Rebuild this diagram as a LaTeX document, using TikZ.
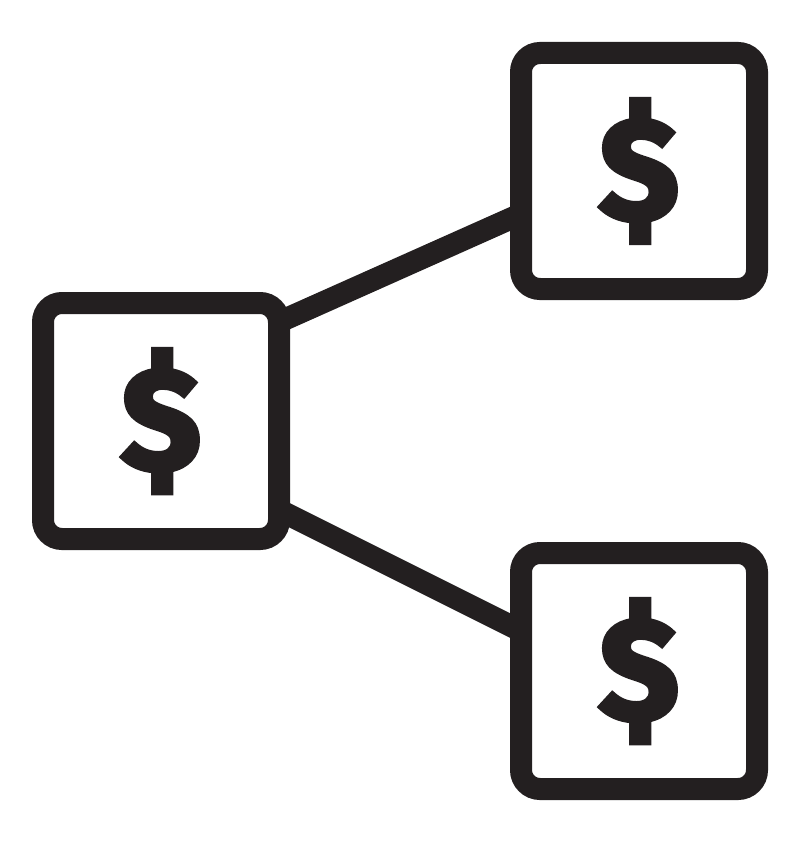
\documentclass[tikz,border=0pt]{standalone}
\usepackage{fontspec}
\newfontfamily\dollarfont{Fira Sans}[UprightFont={* Bold}, FakeBold=4]
\definecolor{ink}{HTML}{231F20}
\begin{document}
\begin{tikzpicture}[x=1pt,y=-1pt,
  box/.style={draw=ink, line width=22pt, rounded corners=19pt, fill=white,
    minimum width=236pt, minimum height=236pt, inner sep=0pt, outer sep=0pt,
    text=ink, font=\dollarfont\fontsize{144}{144}\selectfont},
  link/.style={draw=ink, line width=22pt}]
\useasboundingbox (0,0) rectangle (800,842);
\node[box] (L) at (161,421) {\$};
\node[box] (T) at (639,171) {\$};
\node[box] (B) at (639,671) {\$};
\draw[link] ([yshift=99pt]L.east) -- ([yshift=-43pt]T.west);
\draw[link] ([yshift=-89pt]L.east) -- ([yshift=40pt]B.west);
\end{tikzpicture}
\end{document}
